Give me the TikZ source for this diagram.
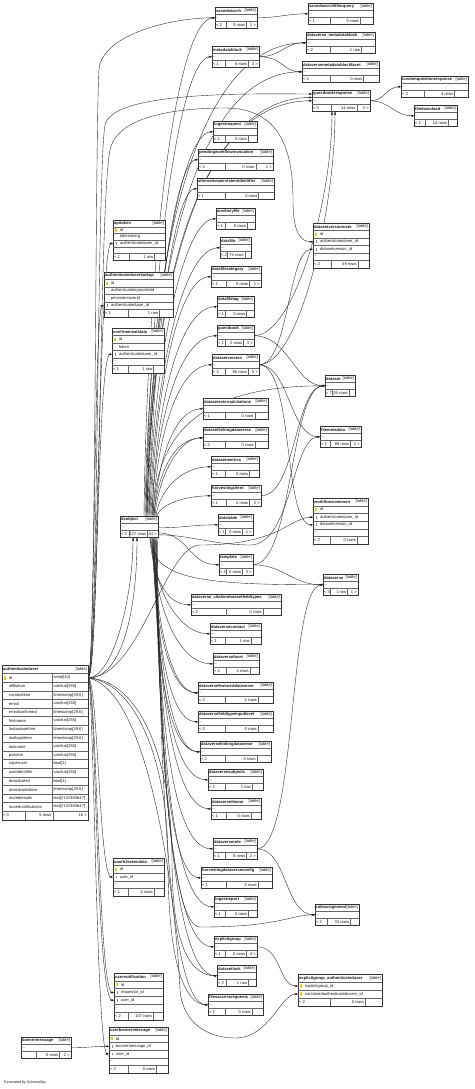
\documentclass[tikz,border=0pt]{standalone}
\usepackage{fontspec}
\setmainfont{Liberation Sans}
\usetikzlibrary{arrows.meta}
\pgfdeclarelayer{bg}
\pgfsetlayers{bg,main}
\definecolor{keyc}{RGB}{235,200,20}
\newcommand\tdots{...}
\tikzset{
  tbl/.style={draw=black!80, fill=white, line width=0.4pt, inner sep=0pt, outer sep=0pt},
  sep/.style={draw=black!60, line width=0.3pt},
  txt/.style={inner sep=0pt, outer sep=0pt, font=\fontsize{4.1}{5}\selectfont, text=black!90},
  htxt/.style={txt, font=\fontsize{4.1}{5}\selectfont\bfseries},
  txtk/.style={txt, anchor=west, xshift=7pt},
  txtf/.style={txt, anchor=west, xshift=7pt},
  txtn/.style={txt, anchor=west, xshift=7pt},
  txtd/.style={txt, anchor=west, xshift=1.2pt},
  iconk/.style={fill=keyc, draw=none, minimum width=1.3pt, minimum height=3.2pt, inner sep=0pt},
  iconf/.style={fill=black!45, draw=none, minimum width=0.6pt, minimum height=2.8pt, inner sep=0pt},
  iconn/.style={inner sep=0pt, minimum size=0pt},
  icond/.style={inner sep=0pt, minimum size=0pt},
  rel/.style={draw=black!85, line width=0.38pt, -{Circle[open,length=1.6pt,width=1.6pt] Latex[length=2pt,width=2.2pt]}},
}
\newcommand\thdr[2]{%
  \pgfmathsetmacro\hm{0.5*\RH}%
  \draw[sep] ([yshift=-\RH pt]#1.north west) -- ([yshift=-\RH pt]#1.north east);
  \node[htxt, anchor=west] at ([xshift=1.2pt,yshift=-\hm pt]#1.north west) {#2};
  \node[txt, anchor=east] at ([xshift=-1.2pt,yshift=-\hm pt]#1.north east) {[table]};
}
\newcommand\tfoot[5]{%
  \pgfmathsetmacro\da{max(0.5*#2-10,7.5)}%
  \if\relax\detokenize{#5}\relax
    \pgfmathsetmacro\rw{max(0.2*#2,6)}%
  \else
    \pgfmathsetmacro\rw{max(0.23*#2,10.5)}%
  \fi
  \pgfmathsetmacro\db{#2-\rw}%
  \pgfmathsetmacro\dbb{\db-1.2}%
  \pgfmathsetmacro\fh{0.5*\RH}%
  \draw[sep] ([xshift=\da pt]#1.south west) -- ++(0,\RH pt);
  \draw[sep] ([xshift=\db pt]#1.south west) -- ++(0,\RH pt);
  \node[txt, anchor=west] at ([xshift=1.2pt,yshift=\fh pt]#1.south west) {#3};
  \node[txt, anchor=east] at ([xshift=\dbb pt,yshift=\fh pt]#1.south west) {#4};
  \node[txt, anchor=east] at ([xshift=-1.2pt,yshift=\fh pt]#1.south east) {#5};
}
\newcommand\stbl[8]{%
  \pgfmathsetmacro\hh{3*\RH}%
  \pgfmathsetmacro\ym{1.5*\RH}%
  \node[tbl, anchor=north west, minimum width=#5pt, minimum height=\hh pt] (#1) at (#3,#4) {};
  \thdr{#1}{#2}%
  \pgfmathsetmacro\yt{2*\RH}%
  \draw[sep] ([yshift=-\yt pt]#1.north west) -- ([yshift=-\yt pt]#1.north east);
  \node[txtd] at ([yshift=-\ym pt]#1.north west) {\tdots};
  \tfoot{#1}{#5}{#6}{#7}{#8}%
  \coordinate (#1-in) at ([yshift=-\ym pt]#1.north west);
  \coordinate (#1-out) at ([yshift=-\ym pt]#1.north east);
}
\newcommand\ctbl[9]{%
  \foreach \ic/\tx [count=\ii] in {#6}{\xdef\nrows{\ii}}%
  \pgfmathsetmacro\hh{(\nrows+2)*\RH}%
  \node[tbl, anchor=north west, minimum width=#5pt, minimum height=\hh pt] (#1) at (#3,#4) {};
  \thdr{#1}{#2}%
  \foreach \ic/\tx [count=\ii] in {#6}{%
    \pgfmathsetmacro\yt{\ii*\RH}%
    \pgfmathsetmacro\ym{(\ii+0.5)*\RH}%
    \draw[sep] ([yshift=-\yt pt]#1.north west) -- ([yshift=-\yt pt]#1.north east);
    \node[icon\ic] at ([xshift=3pt,yshift=-\ym pt]#1.north west) {};
    \node[txt\ic] at ([yshift=-\ym pt]#1.north west) {\tx};
    \coordinate (#1-\ii) at ([yshift=-\ym pt]#1.north west);
  }%
  \pgfmathsetmacro\yt{(\nrows+1)*\RH}%
  \draw[sep] ([yshift=-\yt pt]#1.north west) -- ([yshift=-\yt pt]#1.north east);
  \tfoot{#1}{#5}{#7}{#8}{#9}%
}
\newcommand\conn[4]{\draw[rel] (#1) .. controls #3 and #4 .. (#2);}
\newcommand\dvu[4]{\draw[rel] ([xshift=#2pt]dvobject.north west) .. controls +(3,-#3) and +(-#4,0) .. (#1);}
\newcommand\dvd[4]{\draw[rel] ([xshift=#2pt]dvobject.south west) .. controls +(3,#3) and +(-#4,0) .. (#1);}

\begin{document}
\begin{tikzpicture}[x=1pt,y=-1pt]
\useasboundingbox (0,0) rectangle (474,1089);

\def\RH{7.2}
\stbl{savedsearch}{savedsearch}{215}{7}{42}{< 2}{0 rows}{1 >}
\stbl{ssfq}{savedsearchfilterquery}{308}{3}{65}{< 1}{0 rows}{}
\stbl{metadatablock}{metadatablock}{212}{46}{47}{< 1}{6 rows}{3 >}
\stbl{dvmb}{dataverse\_metadatablock}{306}{32}{69}{< 2}{1 row}{}
\stbl{dvmbf}{dataversemetadatablockfacet}{302}{61}{77}{< 2}{0 rows}{}
\stbl{cqr}{customquestionresponse}{401}{76}{67}{< 2}{4 rows}{}
\stbl{gbr}{guestbookresponse}{312}{90}{58}{< 5}{14 rows}{2 >}
\stbl{filedownload}{filedownload}{414}{105}{43}{< 1}{14 rows}{}
\stbl{ingestrequest}{ingestrequest}{213}{121}{44}{< 1}{0 rows}{}
\stbl{pwi}{pendingworkflowinvocation}{198}{149}{75}{< 2}{0 rows}{1 >}
\stbl{api}{alternativepersistentidentifier}{197}{178}{77}{< 1}{0 rows}{}
\stbl{auxiliaryfile}{auxiliaryfile}{216}{208}{39}{< 1}{0 rows}{}
\stbl{datafile}{datafile}{220}{237}{31}{< 2}{75 rows}{}
\stbl{dfc}{datafilecategory}{211}{266}{50}{< 1}{0 rows}{1 >}
\stbl{dft}{datafiletag}{217}{296}{37}{< 1}{0 rows}{}
\stbl{guestbook}{guestbook}{217}{325}{37}{< 1}{2 rows}{3 >}
\stbl{dsv}{datasetversion}{212}{354}{47}{< 2}{90 rows}{5 >}
\stbl{dec}{datasetexternalcitations}{203}{398}{65}{< 1}{0 rows}{}
\stbl{dslink}{datasetlinkingdataverse}{203}{427}{65}{< 2}{0 rows}{}
\stbl{dsm}{datasetmetrics}{211}{456}{48}{< 1}{0 rows}{}
\stbl{hc}{harvestingclient}{211}{485}{50}{< 1}{0 rows}{2 >}
\stbl{datatable}{datatable}{218}{514}{35}{< 1}{0 rows}{1 >}
\stbl{template}{template}{219}{554}{34}{< 2}{0 rows}{3 >}
\stbl{dvobject}{dvobject}{120}{516}{38}{< 3}{127 rows}{44 >}
\stbl{dataset}{dataset}{325}{375}{30}{< 7}{26 rows}{}
\stbl{filemetadata}{filemetadata}{320}{426}{41}{< 2}{89 rows}{2 >}
\stbl{dataverse}{dataverse}{323}{574}{35}{< 3}{1 row}{1 >}
\stbl{dvcite}{dataverse\_citationdatasetfieldtypes}{191}{594}{90}{< 2}{0 rows}{}
\stbl{dvcontact}{dataversecontact}{210}{623}{51}{< 1}{1 row}{}
\stbl{dvfacet}{dataversefacet}{213}{653}{46}{< 2}{4 rows}{}
\stbl{dvfeat}{dataversefeatureddataverse}{198}{682}{75}{< 2}{0 rows}{}
\stbl{dvfield}{dataversefieldtypeinputlevel}{198}{711}{75}{< 2}{0 rows}{}
\stbl{dvlink}{dataverselinkingdataverse}{200}{741}{71}{< 2}{0 rows}{}
\stbl{dvsubj}{dataversesubjects}{208}{769}{55}{< 2}{1 row}{}
\stbl{dvtheme}{dataversetheme}{211}{798}{50}{< 1}{0 rows}{}
\stbl{dvrole}{dataverserole}{213}{838}{44}{< 1}{8 rows}{2 >}
\stbl{hdc}{harvestingdataverseconfig}{201}{867}{71}{< 1}{0 rows}{}
\stbl{ingestreport}{ingestreport}{214}{896}{43}{< 1}{0 rows}{}
\stbl{roleassign}{roleassignment}{315}{904}{44}{< 2}{33 rows}{}
\stbl{explicitgroup}{explicitgroup}{214}{936}{43}{< 1}{0 rows}{4 >}
\stbl{datasetlock}{datasetlock}{217}{965}{39}{< 2}{1 row}{}
\stbl{far}{filesaccessrequests}{208}{994}{55}{< 2}{0 rows}{}
\stbl{bannermessage}{bannermessage}{21}{1037}{50}{}{0 rows}{2 >}

\def\RH{6.7}
\ctbl{apitoken}{apitoken}{113}{220}{52}{k/id, n/tokenstring, f/authenticateduser\_id, d/\tdots}{< 1}{1 row}{}
\def\RH{7.5}
\ctbl{aulookup}{authenticateduserlookup}{104}{272}{69}{k/id, n/authenticationproviderid, n/persistentuserid, f/authenticateduser\_id}{< 1}{1 row}{}
\ctbl{confirm}{confirmemaildata}{112}{328}{52}{k/id, n/token, f/authenticateduser\_id, d/\tdots}{< 1}{1 row}{}
\ctbl{dsvu}{datasetversionuser}{313}{223}{56}{k/id, f/authenticateduser\_id, f/datasetversion\_id, d/\tdots}{< 2}{59 rows}{}
\def\RH{7.67}
\ctbl{wfc}{workflowcomment}{313}{498}{55}{k/id, f/authenticateduser\_id, f/datasetversion\_id, d/\tdots}{< 2}{0 rows}{}
\def\RH{7.6}
\ctbl{oauth}{oauth2tokendata}{113}{858}{51}{k/id, f/user\_id, d/\tdots}{< 1}{0 rows}{}
\def\RH{7.8}
\ctbl{unotif}{usernotification}{114}{973}{49}{k/id, f/requestor\_id, f/user\_id, d/\tdots}{< 2}{107 rows}{}
\def\RH{7.7}
\ctbl{ubm}{userbannermessage}{109}{1027}{59}{k/id, f/bannermessage\_id, f/user\_id, d/\tdots}{< 2}{0 rows}{}
\def\RH{8}
\ctbl{ega}{explicitgroup\_authenticateduser}{298}{974}{84}{k/explicitgroup\_id, k/containedauthenticatedusers\_id}{< 2}{0 rows}{}

% authenticateduser
\def\RH{8.6}
\node[tbl, anchor=north west, minimum width=86pt, minimum height=154.8pt] (authenticateduser) at (2,665) {};
\thdr{authenticateduser}{authenticateduser}
\foreach \ic/\tx/\ty [count=\ii] in {k/id/serial[10], n/affiliation/varchar[255], n/createdtime/{timestamp[29,6]}, n/email/varchar[255], n/emailconfirmed/{timestamp[29,6]}, n/firstname/varchar[255], n/lastapiusetime/{timestamp[29,6]}, n/lastlogintime/{timestamp[29,6]}, n/lastname/varchar[255], n/position/varchar[255], n/superuser/bool[1], n/useridentifier/varchar[255], n/deactivated/bool[1], n/deactivatedtime/{timestamp[29,6]}, n/mutedemails/text[2147483647], n/mutednotifications/text[2147483647]}{
  \pgfmathsetmacro\yt{\ii*8.6}
  \pgfmathsetmacro\ym{(\ii+0.5)*8.6}
  \draw[sep] ([yshift=-\yt pt]authenticateduser.north west) -- ([yshift=-\yt pt]authenticateduser.north east);
  \node[icon\ic] at ([xshift=3pt,yshift=-\ym pt]authenticateduser.north west) {};
  \node[txt\ic] at ([yshift=-\ym pt]authenticateduser.north west) {\tx};
  \node[txt, anchor=west] at ([xshift=51.5pt,yshift=-\ym pt]authenticateduser.north west) {\ty};
}
\draw[sep] ([yshift=-146.2pt]authenticateduser.north west) -- ([yshift=-146.2pt]authenticateduser.north east);
\draw[sep] ([xshift=50pt,yshift=-8.6pt]authenticateduser.north west) -- ([xshift=50pt,yshift=-146.2pt]authenticateduser.north west);
\draw[sep] ([xshift=23pt]authenticateduser.south west) -- ++(0,8.6pt);
\draw[sep] ([xshift=50.7pt]authenticateduser.south west) -- ++(0,8.6pt);
\node[txt, anchor=west] at ([xshift=1.2pt,yshift=4.3pt]authenticateduser.south west) {< 0};
\node[txt, anchor=east] at ([xshift=49.5pt,yshift=4.3pt]authenticateduser.south west) {5 rows};
\node[txt, anchor=east] at ([xshift=-1.2pt,yshift=4.3pt]authenticateduser.south east) {16 >};
\coordinate (au-out) at ([yshift=-12.9pt]authenticateduser.north east);

\coordinate (gbr-a) at ([yshift=-4pt]gbr.north west);
\coordinate (gbr-b) at ([yshift=-7.5pt]gbr.north west);
\coordinate (gbr-bot1) at ([xshift=20pt]gbr.south west);
\coordinate (gbr-bot2) at ([xshift=23pt]gbr.south west);
\coordinate (dvo-b1) at ([xshift=13pt]dvobject.south west);
\coordinate (dvo-b2) at ([xshift=17pt]dvobject.south west);

\node[txt, anchor=west, font=\fontsize{3.6}{4}\selectfont] (gen) at (4,1083) {Generated by SchemaSpy};

\begin{pgfonlayer}{bg}
\fill[white] (0,0) rectangle (474,1089);
% simple parent -> child
\conn{savedsearch-out}{ssfq-in}{+(22,0)}{+(-22,0)}
\conn{metadatablock-out}{dvmb-in}{+(22,0)}{+(-22,0)}
\conn{metadatablock-out}{dvmbf-in}{+(25,0)}{+(-20,0)}
\conn{gbr-out}{cqr-in}{+(15,0)}{+(-15,0)}
\conn{gbr-out}{filedownload-in}{+(20,0)}{+(-20,0)}
\draw[rel] (guestbook-out) .. controls +(40,0) and +(0,90) .. (gbr-bot1);
\conn{guestbook-out}{dataset-in}{+(35,0)}{+(-30,0)}
\draw[rel] (dsv-out) .. controls +(40,0) and +(0,100) .. (gbr-bot2);
\conn{dsv-out}{dsvu-3}{+(30,0)}{+(-25,0)}
\conn{dsv-out}{wfc-3}{+(35,0)}{+(-30,0)}
\conn{dsv-out}{filemetadata-in}{+(30,0)}{+(-30,0)}
\conn{hc-out}{dataset-in}{+(35,0)}{+(-30,0)}
\conn{template-out}{dataset-in}{+(40,0)}{+(-35,0)}
\conn{template-out}{dataverse-in}{+(30,0)}{+(-30,0)}
\conn{dvrole-out}{roleassign-in}{+(30,0)}{+(-30,0)}
\conn{dvrole-out}{dataverse-in}{+(40,0)}{+(-35,0)}
\conn{explicitgroup-out}{ega-1}{+(25,0)}{+(-20,0)}
\conn{bannermessage-out}{ubm-2}{+(15,0)}{+(-15,0)}
% authenticateduser -> children
\conn{au-out}{apitoken-3}{+(9,0)}{+(-14,0)}
\conn{au-out}{aulookup-4}{+(7,0)}{+(-10,0)}
\conn{au-out}{confirm-3}{+(10,0)}{+(-15,0)}
\draw[rel] (au-out) .. controls (96,678) and (95,130) .. (99,70) .. controls (101,35) and (170,17.8) .. (savedsearch-in);
\draw[rel] (au-out) .. controls (98,678) and (97,170) .. (105,125) .. controls (112,90) and (260,94) .. (gbr-a);
\draw[rel] (au-out) .. controls (100,678) and (99,200) .. (110,150) .. controls (117,115) and (180,108) .. (225,108) .. controls (280,108) and (293,150) .. (293,200) .. controls (293,232) and (300,241.75) .. (dsvu-2);
\draw[rel] (au-out) .. controls (140,678) and (165,545) .. (200,545) .. controls (280,545) and (290,517.2) .. (wfc-2);
\draw[rel] (au-out) .. controls +(25,0) and +(0,60) .. (dvo-b1);
\draw[rel] (au-out) .. controls +(35,0) and +(0,70) .. (dvo-b2);
\conn{au-out}{oauth-2}{+(10,0)}{+(-14,0)}
\conn{au-out}{unotif-2}{+(9,0)}{+(-16,0)}
\conn{au-out}{unotif-3}{+(8,0)}{+(-18,0)}
\conn{au-out}{ubm-3}{+(6,0)}{+(-13,0)}
\draw[rel] (au-out) .. controls (140,680) and (172,760) .. (172,860) .. controls (172,945) and (190,975.8) .. (datasetlock-in);
\draw[rel] (au-out) .. controls (135,682) and (168,760) .. (168,860) .. controls (168,965) and (185,1004.8) .. (far-in);
\draw[rel] (au-out) .. controls (150,690) and (176,900) .. (180,990) .. controls (183,1025) and (210,1038) .. (235,1038) .. controls (270,1038) and (280,994) .. (ega-2);
% dvobject -> children (up)
\dvu{savedsearch-in}{24}{250}{40}
\dvu{dvmb-in}{25}{230}{120}
\dvu{metadatablock-in}{26}{220}{35}
\dvu{dvmbf-in}{26}{210}{115}
\dvu{gbr-b}{27}{200}{120}
\dvu{gbr-in}{27}{195}{125}
\dvu{ingestrequest-in}{27}{190}{35}
\dvu{pwi-in}{28}{170}{25}
\dvu{api-in}{29}{150}{25}
\dvu{auxiliaryfile-in}{29}{140}{35}
\dvu{datafile-in}{30}{125}{40}
\dvu{dfc-in}{31}{110}{35}
\dvu{dft-in}{32}{100}{40}
\dvu{guestbook-in}{32}{85}{40}
\dvu{dsv-in}{33}{75}{35}
\dvu{dataset-in}{33}{60}{150}
\dvu{dec-in}{34}{50}{30}
\dvu{dslink-in}{34}{40}{30}
\dvu{dslink-in}{35}{36}{26}
\dvu{dsm-in}{36}{25}{30}
\dvu{hc-in}{37}{12}{25}
\draw[rel] ([yshift=-1pt]dvobject.east) .. controls +(25,0) and +(-25,0) .. (datatable-in);
\draw[rel] ([yshift=-8pt]dvobject.east) .. controls +(30,0) and (215,545) .. (250,545) .. controls (292,545) and (292,436.8) .. (filemetadata-in);
% dvobject -> children (down)
\draw[rel] ([yshift=-6pt]dvobject.east) .. controls +(30,0) and +(-30,0) .. (template-in);
\dvd{dataverse-in}{30}{40}{130}
\dvd{dvcite-in}{30}{40}{25}
\dvd{dvcontact-in}{31}{55}{30}
\dvd{dvfacet-in}{32}{70}{35}
\dvd{dvfeat-in}{32}{85}{30}
\dvd{dvfeat-in}{33}{90}{26}
\dvd{dvfield-in}{33}{100}{30}
\dvd{dvlink-in}{33}{110}{35}
\dvd{dvlink-in}{34}{115}{30}
\dvd{dvsubj-in}{34}{120}{40}
\dvd{dvtheme-in}{34}{135}{40}
\dvd{dvrole-in}{35}{150}{45}
\dvd{hdc-in}{35}{160}{35}
\dvd{ingestreport-in}{36}{170}{45}
\draw[rel] ([xshift=36pt]dvobject.south west) .. controls +(3,200) and (170,927) .. (200,927) .. controls (280,927) and (290,914.8) .. (roleassign-in);
\dvd{explicitgroup-in}{36}{200}{45}
\dvd{datasetlock-in}{37}{215}{45}
\dvd{far-in}{37}{230}{40}
\end{pgfonlayer}
\end{tikzpicture}
\end{document}
